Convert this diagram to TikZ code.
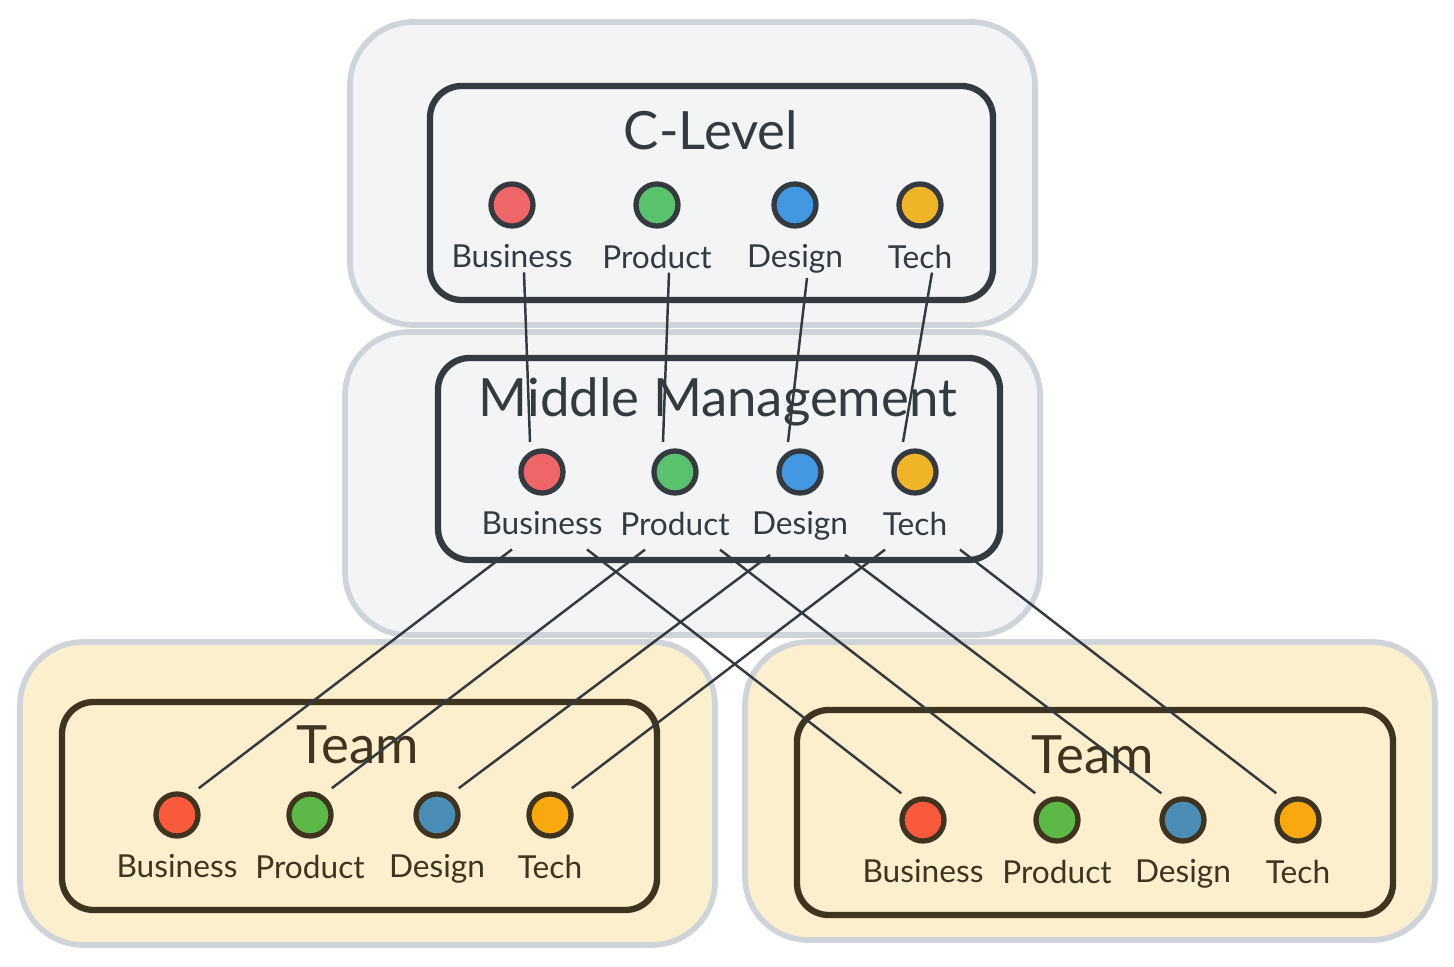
\documentclass[tikz,border=0pt]{standalone}
\usepackage{fontspec}
\setmainfont{Lato}
\usetikzlibrary{positioning,calc}
\definecolor{blobgray}{RGB}{242, 244, 246}
\definecolor{blobyellow}{RGB}{252, 239, 206}
\definecolor{blobline}{RGB}{206, 212, 218}
\definecolor{boxline}{RGB}{52, 58, 64}
\definecolor{teamline}{RGB}{62, 52, 32}
\definecolor{busred}{RGB}{240, 101, 103}
\definecolor{prodgreen}{RGB}{90, 194, 108}
\definecolor{desblue}{RGB}{66, 153, 225}
\definecolor{techyellow}{RGB}{240, 180, 41}
\definecolor{tbusred}{RGB}{250, 90, 60}
\definecolor{tprodgreen}{RGB}{92, 185, 71}
\definecolor{tdesblue}{RGB}{74, 141, 183}
\definecolor{ttechyellow}{RGB}{249, 169, 15}

\begin{document}
\begin{tikzpicture}[
        x=0.01cm, y=-0.01cm,
        blob/.style={draw=blobline, line width=1.6pt, rounded corners=18pt},
        box/.style={draw=boxline, line width=1.8pt, rounded corners=9pt},
        title/.style={font=\fontsize{15}{18}\selectfont, text=boxline},
        dot/.style={circle, draw=boxline, line width=1.5pt, minimum size=0.42cm, inner sep=0pt},
        lbl/.style={font=\fontsize{9}{11}\selectfont, text=boxline, inner sep=1pt},
        link/.style={draw=boxline, line width=0.7pt}
    ]
        \useasboundingbox (0,0) rectangle (1454,967);

        % Backgrounds
        \draw[blob, fill=blobgray] (350,22) rectangle (1035,325);
        \draw[blob, fill=blobgray] (345,332) rectangle (1040,635);
        \draw[blob, fill=blobyellow] (20,642) rectangle (715,945);
        \draw[blob, fill=blobyellow] (745,642) rectangle (1435,940);

        % C-Level
        \draw[box] (430,86) rectangle (993,300);
        \node[title] (ctitle) at (711,130) {C-Level};
        \foreach \n/\x/\c/\t in {cb/512/busred/Business, cp/657/prodgreen/Product, cd/795/desblue/Design, ct/920/techyellow/Tech} {
            \node[dot, fill=\c] (\n) at (\x,205) {};
            \node[lbl, below=0.12cm of \n] (\n l) {\t};
        }

        % Middle Management
        \draw[box] (438,358) rectangle (1000,560);
        \node[title] (mtitle) at (718,402) {Middle Management};
        \foreach \n/\x/\c/\t in {mb/542/busred/Business, mp/675/prodgreen/Product, md/800/desblue/Design, mt/915/techyellow/Tech} {
            \node[dot, fill=\c] (\n) at (\x,472) {};
            \node[lbl, below=0.12cm of \n] (\n l) {\t};
        }

        % Team (left)
        \draw[box, draw=teamline] (62,702) rectangle (657,910);
        \node[title, text=teamline] (ltitle) at (358,745) {Team};
        \foreach \n/\x/\c/\t in {lb/177/tbusred/Business, lp/310/tprodgreen/Product, ld/437/tdesblue/Design, lt/550/ttechyellow/Tech} {
            \node[dot, draw=teamline, fill=\c] (\n) at (\x,815) {};
            \node[lbl, text=teamline, below=0.12cm of \n] (\n l) {\t};
        }

        % Team (right)
        \draw[box, draw=teamline] (797,710) rectangle (1393,915);
        \node[title, text=teamline] (rtitle) at (1093,755) {Team};
        \foreach \n/\x/\c/\t in {rb/923/tbusred/Business, rp/1057/tprodgreen/Product, rd/1183/tdesblue/Design, rt/1298/ttechyellow/Tech} {
            \node[dot, draw=teamline, fill=\c] (\n) at (\x,820) {};
            \node[lbl, text=teamline, below=0.12cm of \n] (\n l) {\t};
        }

        % C-Level -> Middle
        \foreach \a/\b in {cb/mb, cp/mp, cd/md, ct/mt} {
            \draw[link] ($(\a l.south)+(12,0)$) -- ($(\b.center)+(-12,-30)$);
        }

        % Middle -> Teams
        \foreach \a/\b in {mb/lb, mp/lp, md/ld, mt/lt} {
            \draw[link] ($(\a l.south)+(-30,10)$) -- ($(\b.north east)+(5,-10)$);
        }
        \foreach \a/\b in {mb/rb, mp/rp, md/rd, mt/rt} {
            \draw[link] ($(\a l.south)+(45,10)$) -- ($(\b.north west)+(-5,-10)$);
        }

    \end{tikzpicture}
\end{document}
